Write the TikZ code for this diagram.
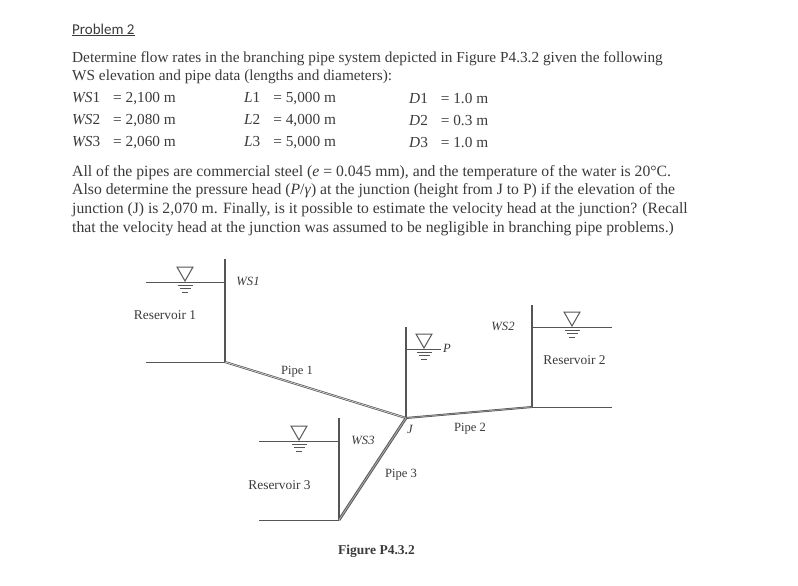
\documentclass[tikz,border=0pt]{standalone}
\usepackage{fontspec}
\setmainfont{Liberation Serif}
\newfontfamily\headfont{Carlito}
\usepackage{xcolor}
\usetikzlibrary{positioning}
\definecolor{inkgray}{HTML}{3A3A3A}
\definecolor{wallgray}{HTML}{555555}
\tikzset{
  txt/.style={anchor=west,inner sep=0pt,text=inkgray,font=\fontsize{15.3}{17}\selectfont},
  para/.style={anchor=west,inner sep=0pt,text=inkgray,font=\fontsize{15.7}{17}\selectfont},
  lbl/.style={inner sep=0pt,text=inkgray,font=\fontsize{12.6}{14}\selectfont},
  resl/.style={inner sep=0pt,text=inkgray,font=\fontsize{13.4}{15}\selectfont},
  wsl/.style={inner sep=0pt,text=inkgray,font=\fontsize{12.6}{14}\selectfont\itshape},
  wall/.style={draw=wallgray,line width=1.2pt},
  wallthick/.style={draw=wallgray,line width=1.8pt},
  level/.style={draw=wallgray,line width=0.8pt},
  bed/.style={draw=wallgray,line width=0.9pt},
  pipe/.style={draw=wallgray,double=white!85!black,double distance=0.7pt,line width=0.7pt},
  pipedark/.style={draw=wallgray,double=gray!70,double distance=0.6pt,line width=0.7pt},
  pipefat/.style={draw=wallgray,double=gray!70,double distance=1pt,line width=0.9pt},
  pics/levelmark/.style={code={
    \draw[level,line width=1pt] (-8,-15) -- (8,-15) -- (0,-1) -- cycle;
    \draw[level] (-7.5,3.5) -- (7.5,3.5);
    \draw[level] (-5.5,6.5) -- (5.5,6.5);
    \draw[level] (-3,10) -- (3,10);
  }}
}
\begin{document}
\begin{tikzpicture}[x=1pt,y=-1pt]
  \useasboundingbox (0,0) rectangle (798,586);
  % problem text
  \node[txt,font=\headfont\fontsize{15}{17}\selectfont] (head) at (72,30) {\underline{Problem 2}};
  \node[txt] (intro1) at (72,59) {Determine flow rates in the branching pipe system depicted in Figure P4.3.2 given the following};
  \node[txt] (intro2) at (72,77) {WS elevation and pipe data (lengths and diameters):};
  \node[txt] (ws1) at (72,99) {\textit{WS}1\hspace{13pt}= 2,100 m};
  \node[txt] (ws2) at (72,121) {\textit{WS}2\hspace{13pt}= 2,080 m};
  \node[txt] (ws3) at (72,143) {\textit{WS}3\hspace{13pt}= 2,060 m};
  \node[txt] (len1) at (244,99) {\textit{L}1\hspace{13pt}= 5,000 m};
  \node[txt] (len2) at (244,121) {\textit{L}2\hspace{13pt}= 4,000 m};
  \node[txt] (len3) at (244,143) {\textit{L}3\hspace{13pt}= 5,000 m};
  \node[txt] (dia1) at (409,99) {\textit{D}1\hspace{13pt}= 1.0 m};
  \node[txt] (dia2) at (409,121) {\textit{D}2\hspace{13pt}= 0.3 m};
  \node[txt] (dia3) at (409,143) {\textit{D}3\hspace{13pt}= 1.0 m};
  \node[para] (body1) at (72,173) {All of the pipes are commercial steel (\textit{e} = 0.045 mm), and the temperature of the water is 20°C.};
  \node[para] (body2) at (72,191) {Also determine the pressure head (\textit{P}/\textit{γ}) at the junction (height from J to P) if the elevation of the};
  \node[para] (body3) at (72,210) {junction (J) is 2,070 m. Finally, is it possible to estimate the velocity head at the junction? (Recall};
  \node[para] (body4) at (72,229) {that the velocity head at the junction was assumed to be negligible in branching pipe problems.)};
  % fixed points of the system
  \coordinate (r1top) at (225,259);
  \coordinate (r1bed) at (225,362);
  \coordinate (r1left) at (146,362);
  \coordinate (r1ws) at (225,282);
  \coordinate (r1wsl) at (146,282);
  \coordinate (r2top) at (532,305);
  \coordinate (r2bed) at (532,407);
  \coordinate (r2right) at (612,407);
  \coordinate (r2ws) at (532,327);
  \coordinate (r2wsr) at (612,327);
  \coordinate (r3top) at (339,418);
  \coordinate (r3bed) at (339,520);
  \coordinate (r3left) at (259,520);
  \coordinate (r3ws) at (339,441);
  \coordinate (r3wsl) at (259,441);
  \coordinate (junc) at (406,418);
  \coordinate (ptop) at (406,327);
  \coordinate (pws) at (406,349);
  \coordinate (pwsr) at (441,349);
  % reservoirs
  \draw[wall] (r1top) -- (r1bed);
  \draw[bed] (r1bed) -- (r1left);
  \draw[level] (r1ws) -- (r1wsl);
  \draw[wall] (r2top) -- (r2bed);
  \draw[bed] (r2bed) -- (r2right);
  \draw[level] (r2ws) -- (r2wsr);
  \draw[wall] (r3top) -- (r3bed);
  \draw[bed] (r3bed) -- (r3left);
  \draw[level] (r3ws) -- (r3wsl);
  \draw[wallthick] (ptop) -- (junc);
  \draw[level] (pws) -- (pwsr);
  % pipes
  \draw[pipe] (r1bed) -- (junc);
  \draw[pipedark] (junc) -- (r2bed);
  \draw[pipefat] (junc) -- (r3bed);
  % level marks
  \pic at (185,282) {levelmark};
  \pic at (572,327) {levelmark};
  \pic at (299,441) {levelmark};
  \pic at (424,349) {levelmark};
  % labels
  \node[resl] (res1) at (165,315.5) {Reservoir 1};
  \node[resl] (res2) at (574.5,360.5) {Reservoir 2};
  \node[resl] (res3) at (279.5,485.5) {Reservoir 3};
  \node[wsl] (lws1) at (248,281.5) {WS1};
  \node[wsl] (lws2) at (503,326.5) {WS2};
  \node[wsl] (lws3) at (363,440.5) {WS3};
  \node[wsl] (lp) at (447,348.5) {P};
  \node[wsl] (lj) at (410,429) {J};
  \node[lbl] (pipe1) at (297,371.5) {Pipe 1};
  \node[lbl] (pipe2) at (470,428.5) {Pipe 2};
  \node[lbl] (pipe3) at (401,474.5) {Pipe 3};
  \node[lbl,font=\fontsize{13.5}{15}\selectfont\bfseries] (fig) at (376.5,551.5) {Figure P4.3.2};
\end{tikzpicture}
\end{document}
